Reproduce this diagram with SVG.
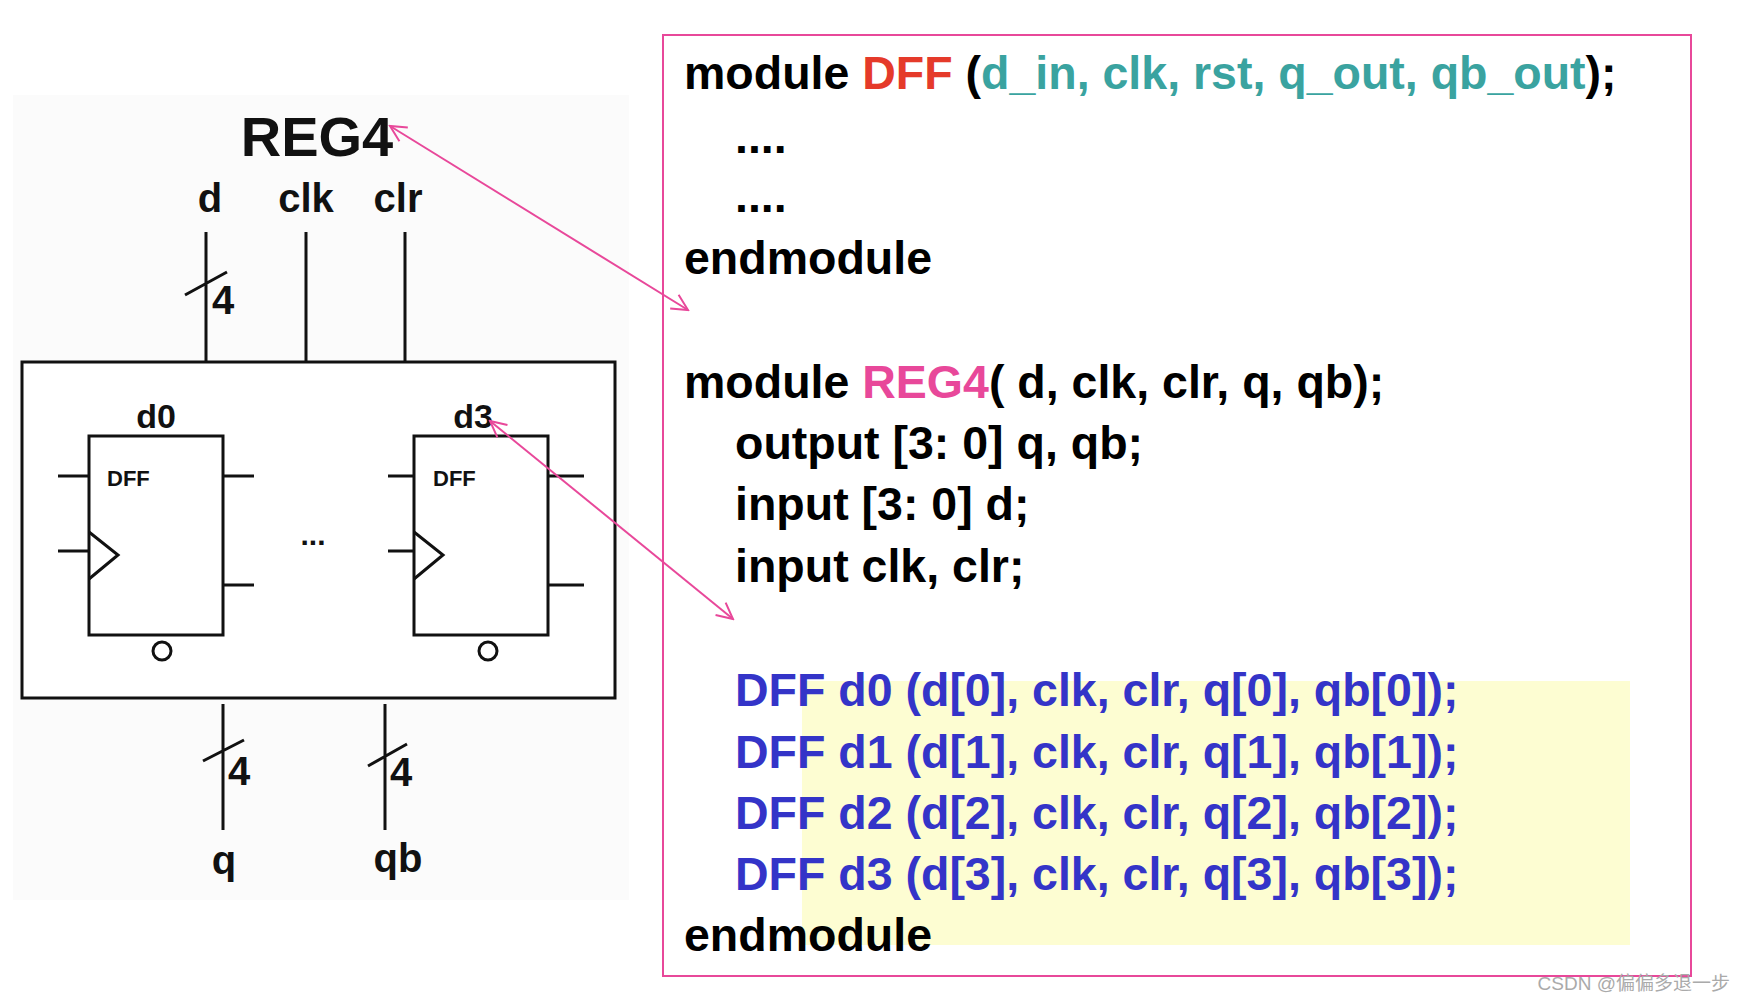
<svg xmlns="http://www.w3.org/2000/svg" width="1747" height="1003" viewBox="0 0 1747 1003">
<style>
.w{stroke:#111;stroke-width:3;fill:none}
.t{font-family:"Liberation Sans",Arial,sans-serif;font-weight:bold;fill:#111}
.c{font-family:"Liberation Sans",Arial,sans-serif;font-weight:bold;font-size:46.5px;fill:#000}
.b{fill:#3434c8}
.p{stroke:#e8489a;stroke-width:2;fill:none}
</style>
<defs>
<marker id="ah" markerWidth="20" markerHeight="20" refX="18" refY="10" orient="auto-start-reverse" markerUnits="userSpaceOnUse">
<path d="M2,2 L18,10 L2,18" fill="none" stroke="#e8489a" stroke-width="2"/>
</marker>
</defs>
<rect width="1747" height="1003" fill="#fff"/>
<g id="reg4">
<rect x="13" y="95" width="616" height="805" fill="#fbfbfb"/>
<text class="t" x="317" y="156" font-size="56" text-anchor="middle">REG4</text>
<text class="t" x="210" y="212" font-size="40" text-anchor="middle">d</text>
<text class="t" x="306" y="212" font-size="40" text-anchor="middle">clk</text>
<text class="t" x="398" y="212" font-size="40" text-anchor="middle">clr</text>
<path class="w" d="M206,232V362M306,232V362M405,232V362M185,295L227,272"/>
<text class="t" x="212" y="314" font-size="40">4</text>
<rect x="22" y="362" width="593" height="336" fill="#fff" stroke="#111" stroke-width="3"/>
<path class="w" d="M223,704V830M385,704V830M203,761L244,740M368,766L407,744"/>
<text class="t" x="228" y="785" font-size="40">4</text>
<text class="t" x="390" y="786" font-size="40">4</text>
<text class="t" x="224" y="874" font-size="40" text-anchor="middle">q</text>
<text class="t" x="398" y="872" font-size="40" text-anchor="middle">qb</text>
<text class="t" x="313" y="545" font-size="30" text-anchor="middle" font-weight="normal">...</text>
</g>
<g id="dff0">
<text class="t" x="156" y="428" font-size="34" text-anchor="middle">d0</text>
<rect x="89" y="436" width="134" height="199" class="w"/>
<path class="w" d="M58,476H89M58,551H89M223,476H254M223,585H254M89,532L118,555L89,579"/>
<text class="t" x="107" y="486" font-size="22">DFF</text>
<circle cx="162" cy="651" r="9" class="w"/>
</g>
<g id="dff3">
<text class="t" x="473" y="428" font-size="34" text-anchor="middle">d3</text>
<rect x="414" y="436" width="134" height="199" class="w"/>
<path class="w" d="M388,476H414M388,551H414M548,476H584M548,585H584M414,532L443,555L414,579"/>
<text class="t" x="433" y="486" font-size="22">DFF</text>
<circle cx="488" cy="651" r="9" class="w"/>
</g>
<g id="code">
<rect x="802" y="681" width="828" height="264" fill="#fdfdd2"/>
<rect x="663" y="35" width="1028" height="941" fill="none" stroke="#e8489a" stroke-width="2"/>
<text class="c" x="684" y="89">module <tspan fill="#e53a2a">DFF</tspan> (<tspan fill="#3aa3a0">d_in, clk, rst, q_out, qb_out</tspan>);</text>
<text class="c" x="735" y="153">....</text>
<text class="c" x="735" y="212">....</text>
<text class="c" x="684" y="274">endmodule</text>
<text class="c" x="684" y="398">module <tspan fill="#e8489a">REG4</tspan>( d, clk, clr, q, qb);</text>
<text class="c" x="735" y="459">output [3: 0] q, qb;</text>
<text class="c" x="735" y="520">input [3: 0] d;</text>
<text class="c" x="735" y="582">input clk, clr;</text>
<text class="c b" x="735" y="706">DFF d0 (d[0], clk, clr, q[0], qb[0]);</text>
<text class="c b" x="735" y="768">DFF d1 (d[1], clk, clr, q[1], qb[1]);</text>
<text class="c b" x="735" y="829">DFF d2 (d[2], clk, clr, q[2], qb[2]);</text>
<text class="c b" x="735" y="890">DFF d3 (d[3], clk, clr, q[3], qb[3]);</text>
<text class="c" x="684" y="951">endmodule</text>
</g>
<g id="connectors">
<line class="p" x1="390" y1="126" x2="688" y2="310" marker-start="url(#ah)" marker-end="url(#ah)"/>
<line class="p" x1="490" y1="421" x2="733" y2="619" marker-start="url(#ah)" marker-end="url(#ah)"/>
</g>
<text x="1730" y="990" text-anchor="end" font-family="'Liberation Sans','Noto Sans CJK SC',sans-serif" font-size="19" fill="#aaa">CSDN @偏偏多退一步</text>
</svg>
